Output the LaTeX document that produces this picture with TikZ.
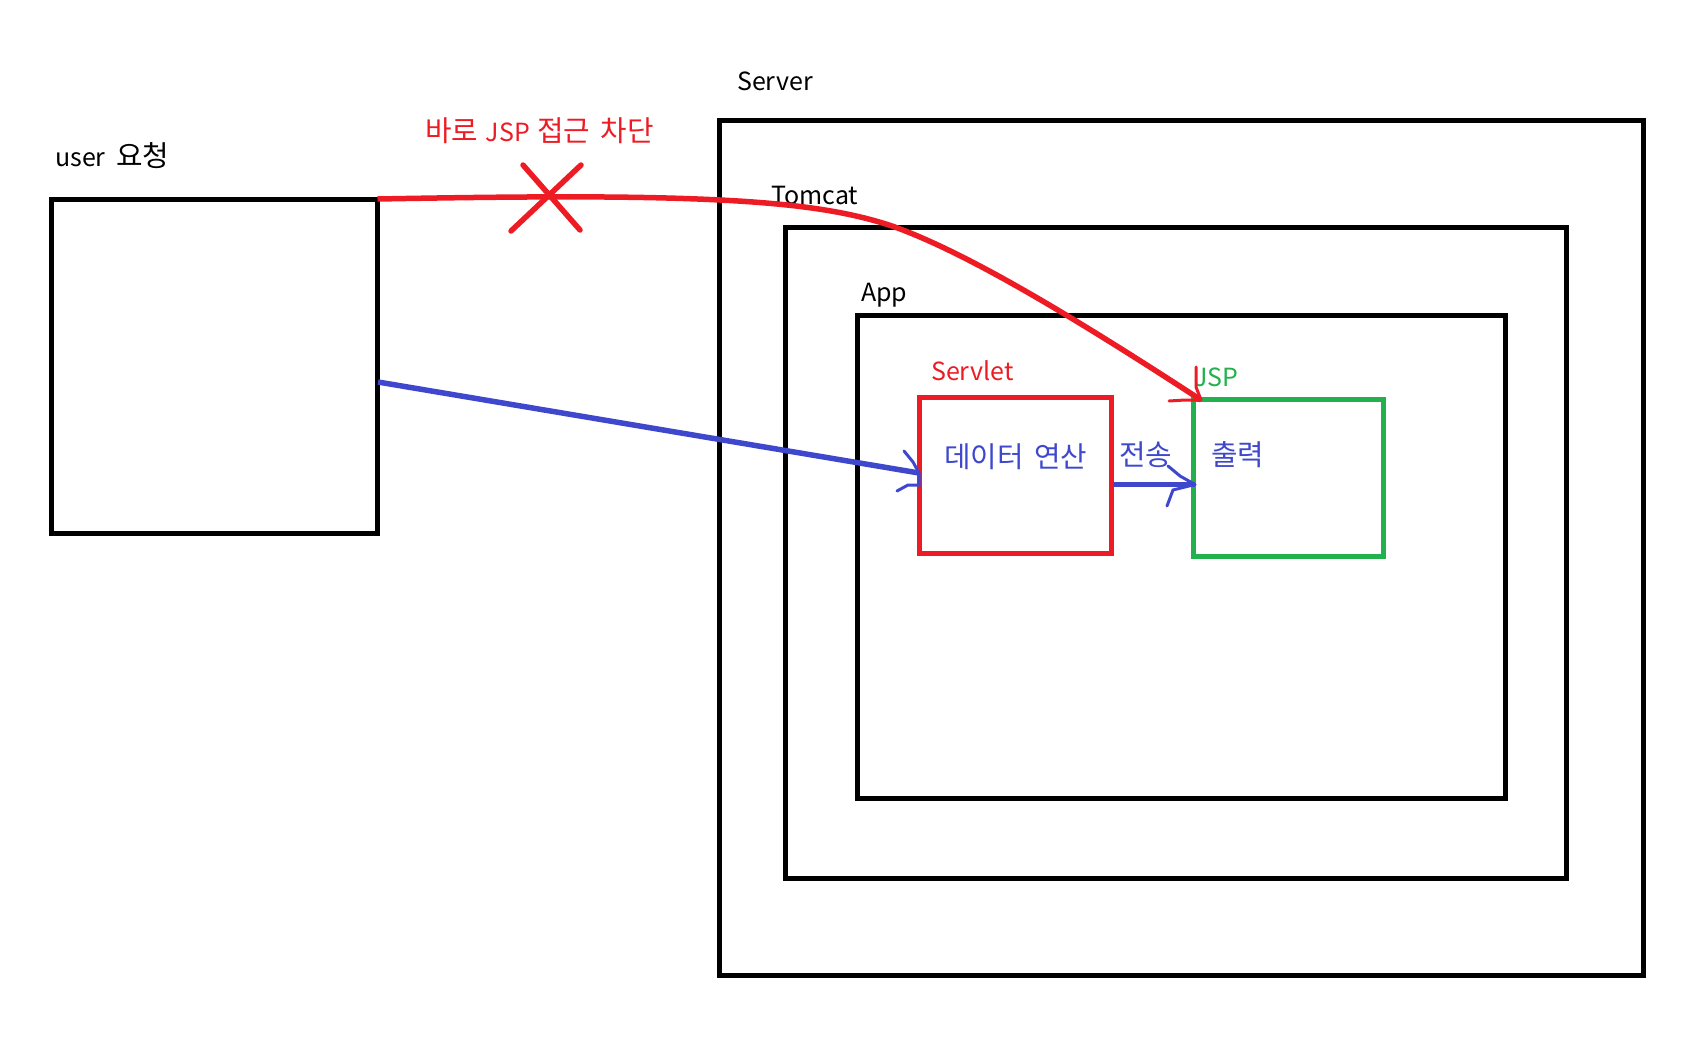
\documentclass[tikz,border=0pt]{standalone}
\usepackage{fontspec}
\setmainfont{Noto Sans CJK KR}
\newfontfamily\korfont[WordSpace=1.6]{Noto Sans CJK KR}
\newcommand{\kor}[1]{{\korfont\fontsize{28.8}{32}\selectfont #1}}
\definecolor{paintred}{HTML}{ED1C24}
\definecolor{paintgreen}{HTML}{22B14C}
\definecolor{paintblue}{HTML}{3F48CC}
\tikzset{
  box/.style={draw,line width=5pt,inner sep=0pt,outer sep=0pt,anchor=north west},
  label/.style={anchor=west,inner sep=0pt,font=\fontsize{25}{30}\selectfont},
  stroke/.style={line width=5.5pt},
  scrawl/.style={line width=3pt,line cap=round}
}
\begin{document}
\begin{tikzpicture}[x=1pt,y=-1pt]
  \useasboundingbox (0,0) rectangle (1685,1039);

  % Boxes
  \node[box,minimum width=326pt,minimum height=334pt] (user) at (51.5,199) {};
  \node[box,minimum width=924pt,minimum height=855pt] (server) at (719,120) {};
  \node[box,minimum width=781pt,minimum height=651pt] (tomcat) at (785.5,227.5) {};
  \node[box,minimum width=648pt,minimum height=483pt] (app) at (857,315.5) {};
  \node[box,paintred,minimum width=192pt,minimum height=156pt] (servlet) at (919,397.5) {};
  \node[box,paintgreen,minimum width=190pt,minimum height=157pt] (jsp) at (1193,399) {};

  % Labels
  \node[label] (userlabel) at (55,156) {user \kern5pt\kor{요청}};
  \node[label] (serverlabel) at (737,81.5) {Server};
  \node[label] (tomcatlabel) at (771,195) {Tomcat};
  \node[label] (applabel) at (861,295) {App};
  \node[label,paintred] (servletlabel) at (931,371) {Servlet};
  \node[label,paintgreen] (jsplabel) at (1194,377) {JSP};
  \node[label,paintred] (blocklabel) at (425,131) {\kor{바로} \kern2pt JSP \kern2pt\kor{접근 차단}};
  \node[label,paintblue] (calclabel) at (944,457) {\kor{데이터 연산}};
  \node[label,paintblue] (sendlabel) at (1119,455) {\kor{전송}};
  \node[label,paintblue] (printlabel) at (1211,455) {\kor{출력}};

  % Blocked direct access
  \coordinate (jsptip) at (1201,400);
  \draw[stroke,paintred] (user.north east) .. controls (540,196) and (640,196) .. (720,200)
    .. controls (800,204) and (850,212) .. (892,226)
    .. controls (960,250) and (1060,308) .. (jsptip);
  \draw[stroke,paintred,line cap=round] (523,165) -- (580,230);
  \draw[stroke,paintred,line cap=round] (581,165) -- (511,231);
  \draw[scrawl,paintred] (1169,401) -- (1185,400) -- (jsptip);
  \draw[scrawl,paintred] (1196,367) -- (1196,387) -- (jsptip);

  % Request to servlet
  \coordinate (userout) at (378,382);
  \coordinate (servletin) at (919,473);
  \draw[stroke,paintblue] (userout) -- (servletin);
  \draw[scrawl,paintblue] (904,451) -- (913,462) -- (servletin) -- (919,485) -- (908,485) -- (897,491);

  % Servlet to JSP
  \coordinate (servletout) at (1114,484.5);
  \coordinate (jspin) at (1195,484.5);
  \draw[stroke,paintblue] (servletout) -- (jspin);
  \draw[scrawl,paintblue] (1168,466) -- (1180,476) -- (jspin);
  \draw[scrawl,paintblue] (1167,506) -- (1173,490) -- (jspin);
\end{tikzpicture}
\end{document}
